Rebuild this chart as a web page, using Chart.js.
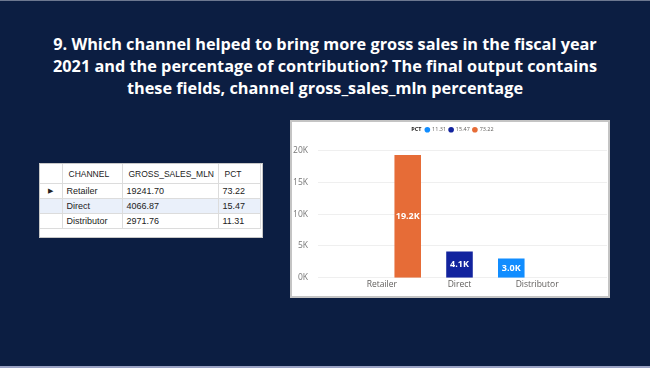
<!DOCTYPE html>
<html>
<head>
<meta charset="utf-8">
<script src="https://cdn.jsdelivr.net/npm/chart.js"></script>
<style>
  html, body { margin: 0; padding: 0; }
  body { width: 650px; height: 368px; background: #0c1e42; overflow: hidden; }
  .slide { position: relative; width: 650px; height: 368px; box-sizing: border-box; border-top: 1px solid #6d7890; border-bottom: 2px solid #9aa2c4; }
  .title { position: absolute; left: 0; top: 32px; width: 650px; text-align: center; color: #fff;
           font: 700 16.3px "Open Sans", sans-serif; line-height: 22px; }
  .grid { position: absolute; left: 39px; top: 162px; width: 224px; height: 75px; background: #fff;
          border: 1px solid #c8c8c8; box-sizing: border-box; }
  .grid table { border-collapse: collapse; table-layout: fixed; font: 9px "Liberation Sans", Arial, sans-serif; color: #222; }
  .grid td, .grid th { border: 1px solid #dcdcdc; padding: 0 0 0 4px; text-align: left; white-space: nowrap; overflow: hidden; }
  .grid th { font-weight: normal; font-size: 8.5px; height: 19px; padding-left: 6px; border-top: none; }
  .grid td { height: 14px; }
  .grid .ind { padding: 0; text-align: center; border-left: none; font-size: 7px; }
  .grid tr.sel td { background: #eaf0fa; }
  .panel { position: absolute; left: 290px; top: 119px; width: 320px; height: 178px; background: #fff;
           border: 2px solid #c4c4c4; box-sizing: border-box; }
  .panel canvas { position: absolute; left: 0; top: 0; }
</style>
</head>
<body>
<div class="slide">
  <div class="title">9. Which channel helped to bring more gross sales in the fiscal year<br>2021 and the percentage of contribution? The final output contains<br>these fields, channel gross_sales_mln percentage</div>
  <div class="grid"><table id="tbl"><colgroup><col style="width:22px"><col style="width:60px"><col style="width:96px"><col style="width:42px"></colgroup></table></div>
  <div class="panel"><canvas id="salesChart" width="316" height="174"></canvas></div>
</div>
<script>
// Query result
const channels = ['Retailer', 'Direct', 'Distributor'];
const grossSalesMln = [19241.70, 4066.87, 2971.76];
const pctValues = [73.22, 15.47, 11.31];
const yTicks = [0, 5000, 10000, 15000, 20000];

// Legend / slot order in the visual (ascending PCT)
const seriesOrder = [2, 1, 0];
const seriesColors = ['#118DFF', '#12239E', '#E66C37'];

// Fill the result grid
const tbl = document.getElementById('tbl');
let html = '<tr><th class="ind"></th><th>CHANNEL</th><th>GROSS_SALES_MLN</th><th>PCT</th></tr>';
channels.forEach((c, i) => {
    html += '<tr' + (i === 1 ? ' class="sel"' : '') + '><td class="ind">' + (i === 0 ? '&#9654;' : '') + '</td><td>' + c +
        '</td><td>' + grossSalesMln[i].toFixed(2) + '</td><td>' + pctValues[i].toFixed(2) + '</td></tr>';
});
tbl.insertAdjacentHTML('beforeend', html);

const fmtK = v => (v / 1000).toFixed(1) + 'K';

const datasets = seriesOrder.map((idx, k) => ({
    label: pctValues[idx].toFixed(2),
    data: channels.map((c, j) => (j === idx ? grossSalesMln[j] : null)),
    backgroundColor: seriesColors[k],
    categoryPercentage: 1,
    barPercentage: 1
}));

// Labels inside the bars
const barLabels = {
    id: 'barLabels',
    afterDatasetsDraw(chart) {
        const ctx = chart.ctx;
        ctx.save();
        ctx.fillStyle = '#fff';
        ctx.font = 'bold 9px "Open Sans", sans-serif';
        ctx.textAlign = 'center';
        ctx.textBaseline = 'middle';
        chart.data.datasets.forEach((ds, i) => {
            chart.getDatasetMeta(i).data.forEach((bar, j) => {
                if (ds.data[j] == null) return;
                ctx.fillText(fmtK(ds.data[j]), bar.x, (bar.y + bar.base) / 2);
            });
        });
        ctx.restore();
    }
};

// "PCT" in front of the legend items, and some room under the legend
const legendTitle = {
    id: 'legendTitle',
    beforeInit(chart) {
        const fit = chart.legend.fit;
        chart.legend.fit = function () {
            fit.bind(chart.legend)();
            this.height += 8;
        };
    },
    afterDraw(chart) {
        const boxes = chart.legend.legendHitBoxes;
        if (!boxes || !boxes.length) return;
        const ctx = chart.ctx;
        ctx.save();
        ctx.fillStyle = '#252423';
        ctx.font = 'bold 5.5px "Open Sans", sans-serif';
        ctx.textAlign = 'right';
        ctx.textBaseline = 'middle';
        ctx.fillText('PCT', boxes[0].left - 4, boxes[0].top + boxes[0].height / 2);
        ctx.restore();
    }
};

const gridColor = '#efefef';

new Chart(document.getElementById('salesChart'), {
    type: 'bar',
    data: { labels: channels, datasets: datasets },
    options: {
        responsive: false,
        animation: false,
        layout: { padding: { left: 0, right: 1, top: 2, bottom: 4 } },
        plugins: {
            legend: {
                position: 'top',
                fullSize: false,
                labels: {
                    usePointStyle: true,
                    pointStyle: 'circle',
                    boxWidth: 4,
                    boxHeight: 4,
                    padding: 3,
                    color: '#605E5C',
                    font: { size: 5.5, family: '"Open Sans", sans-serif' }
                }
            },
            tooltip: { enabled: false }
        },
        scales: {
            x: {
                grid: { display: false, drawTicks: false },
                border: { display: false },
                ticks: { color: '#605E5C', padding: 2, font: { size: 8.5, family: '"Open Sans", sans-serif' } }
            },
            y: {
                min: yTicks[0],
                max: yTicks[yTicks.length - 1],
                afterBuildTicks: s => { s.ticks = yTicks.map(v => ({ value: v })); },
                afterFit: s => { s.width = 51; },
                border: { display: false },
                grid: { color: gridColor, tickColor: gridColor, tickLength: 25 },
                ticks: { color: '#777', padding: 10, font: { size: 8.5, family: '"Open Sans", sans-serif' },
                         callback: v => (v / 1000) + 'K' }
            },
            y2: {
                position: 'right',
                min: yTicks[0],
                max: yTicks[yTicks.length - 1],
                afterBuildTicks: s => { s.ticks = yTicks.map(v => ({ value: v })); },
                afterFit: s => { s.width = 31; },
                border: { display: false },
                grid: { drawOnChartArea: false, color: gridColor, tickColor: gridColor, tickLength: 31 },
                ticks: { display: false }
            }
        }
    },
    plugins: [barLabels, legendTitle]
});
</script>
</body>
</html>
